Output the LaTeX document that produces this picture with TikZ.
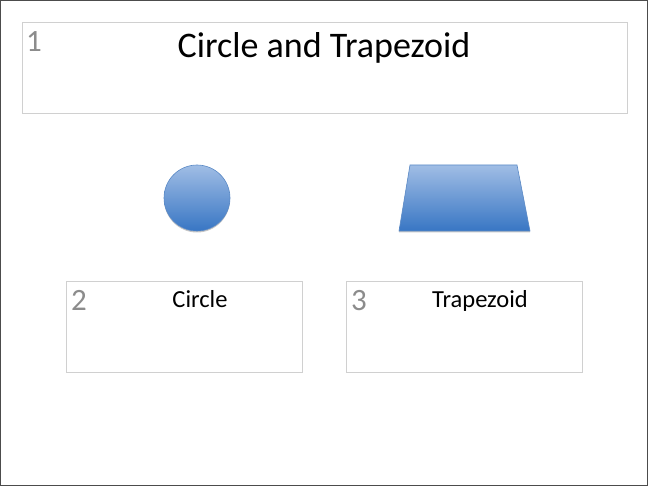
\documentclass[tikz,border=0pt]{standalone}
\usepackage{fontspec}
\setmainfont{Carlito}
\usetikzlibrary{shadows}
\definecolor{gtop}{HTML}{A0BDE5}
\definecolor{gbot}{HTML}{3876C4}
\definecolor{gline}{HTML}{5B8AC6}
\definecolor{boxline}{HTML}{D0D0D0}
\definecolor{numgray}{HTML}{8C8C8C}
\tikzset{
  phbox/.style={draw=boxline, line width=0.8pt},
  numtxt/.style={text=numgray, anchor=base west, inner sep=0pt, font=\fontsize{31}{31}\selectfont},
  lbltxt/.style={anchor=base, inner sep=0pt, font=\fontsize{24.5}{24.5}\selectfont},
  shapefill/.style={draw=gline, line width=0.6pt, top color=gtop, bottom color=gbot,
     drop shadow={shadow xshift=0pt, shadow yshift=-1.5pt, opacity=0.45, fill=black!50}}
}
\begin{document}
\begin{tikzpicture}[x=1pt,y=-1pt]
\useasboundingbox (0,0) rectangle (648,486);
\draw[draw=black!70, line width=1.2pt] (0.6,0.6) rectangle (647.4,485.4);
% title box
\node[phbox, minimum width=605pt, minimum height=91pt, anchor=north west, inner sep=0pt] (b1) at (22,22) {};
\node[numtxt] (n1) at (26,52) {1};
\node[anchor=base, inner sep=0pt, font=\fontsize{36}{36}\selectfont] (t1) at (324,58) {Circle and Trapezoid};
% circle
\node[shapefill, circle, minimum size=66pt, inner sep=0pt] (c) at (197,198) {};
% trapezoid
\path[shapefill] (410,165) -- (517,165) -- (530,231) -- (399,231) -- cycle;
\coordinate (tz) at (464,198);
% box 2
\node[phbox, minimum width=236pt, minimum height=91pt, anchor=north west, inner sep=0pt] (b2) at (66,281) {};
\node[numtxt] (n2) at (71,311) {2};
\node[lbltxt] (l2) at (200,308) {Circle};
% box 3
\node[phbox, minimum width=236pt, minimum height=91pt, anchor=north west, inner sep=0pt] (b3) at (346,281) {};
\node[numtxt] (n3) at (351,311) {3};
\node[lbltxt] (l3) at (480,308) {Trapezoid};
\end{tikzpicture}
\end{document}
